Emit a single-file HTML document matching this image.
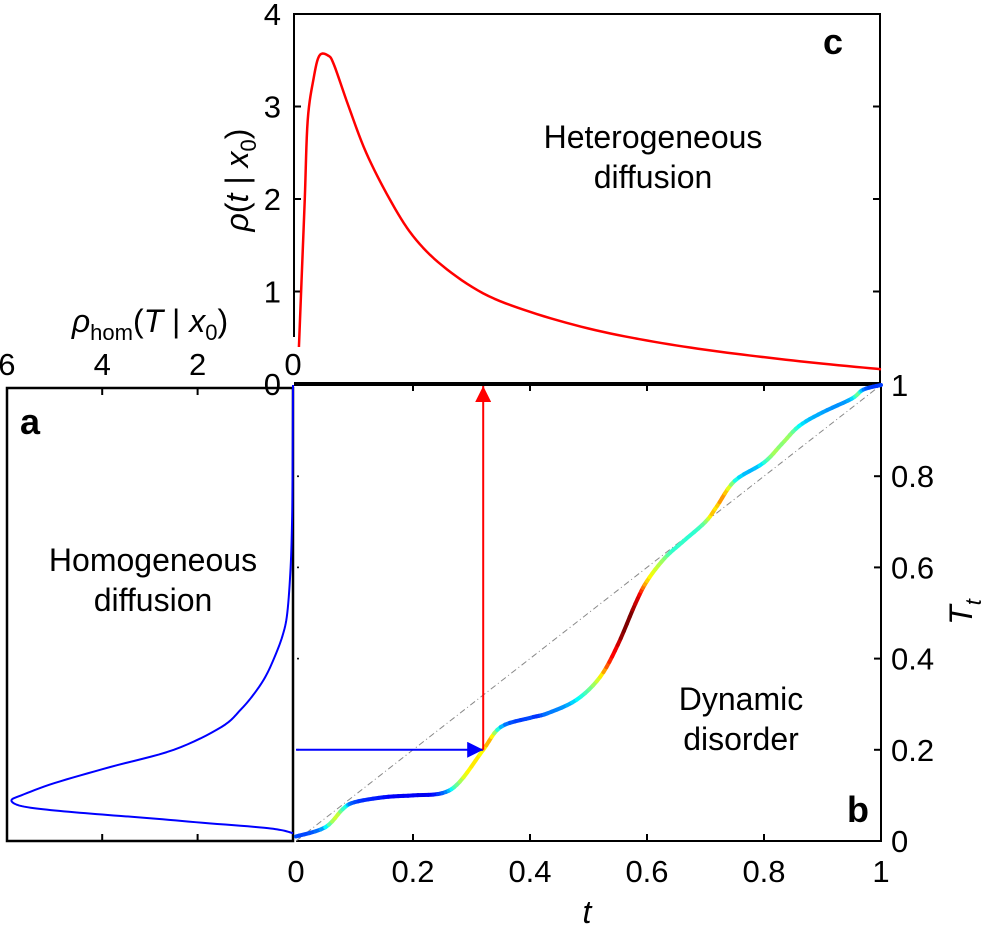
<!DOCTYPE html>
<html><head><meta charset="utf-8"><style>
body{margin:0;background:#fff}
svg text{font-family:"Liberation Sans",sans-serif;fill:#000}
</style></head><body>
<svg id="fig" width="995" height="931" viewBox="0 0 995 931" xmlns="http://www.w3.org/2000/svg">
<defs>
<marker id="ab" viewBox="0 0 10 10" refX="10" refY="5" markerWidth="24" markerHeight="16" markerUnits="userSpaceOnUse" orient="auto"><path d="M0,0L10,5L0,10z" fill="#0000ff"/></marker>
<marker id="ar" viewBox="0 0 10 10" refX="10" refY="5" markerWidth="24" markerHeight="16" markerUnits="userSpaceOnUse" orient="auto"><path d="M0,0L10,5L0,10z" fill="#ff0000"/></marker>
</defs>
<g id="g"></g>
</svg>
<script>
// Panel c: heterogeneous first-passage density rho(t|x0)
const cT=[0.005,0.01,0.015,0.02,0.03,0.04,0.055,0.065,0.09,0.12,0.16,0.2,0.25,0.32,0.4,0.5,0.6,0.7,0.8,0.9,1.0];
const cRho=[0.4,1.2,2.0,2.85,3.3,3.55,3.55,3.45,3.0,2.5,2.0,1.6,1.28,0.98,0.78,0.6,0.47,0.37,0.29,0.22,0.16];
const cYTicks=[0,1,2,3,4];
// Panel a: homogeneous density rho_hom(T|x0)
const aT=[1.0,0.8,0.7,0.6,0.5,0.45,0.4,0.36,0.325,0.29,0.25,0.2,0.162,0.127,0.1,0.09,0.08,0.073,0.066,0.058,0.05,0.04,0.03,0.024,0.017];
const aRho=[0.0,0.01,0.02,0.05,0.12,0.22,0.4,0.58,0.8,1.08,1.5,2.5,3.84,5.0,5.7,5.9,5.8,5.5,4.9,4.0,3.0,1.9,0.7,0.25,0.0];
const aTicks=[6,4,2,0];
// Panel b: transformed time T_t vs t
const bt=[0,0.05,0.08,0.1,0.15,0.2,0.25,0.28,0.32,0.35,0.4,0.43,0.48,0.52,0.55,0.58,0.6,0.63,0.66,0.7,0.72,0.75,0.8,0.83,0.86,0.9,0.95,0.97,1.0];
const bT=[0.01,0.03,0.07,0.085,0.096,0.1,0.105,0.13,0.2,0.25,0.27,0.28,0.31,0.36,0.43,0.52,0.57,0.62,0.655,0.70,0.735,0.79,0.83,0.87,0.91,0.94,0.97,0.99,1.0];
const tTicks=[0,0.2,0.4,0.6,0.8,1];
const TTicks=[0,0.2,0.4,0.6,0.8,1];
const t0=0.32,T0=0.2;

const X=t=>296+t*585;
const Yb=T=>841-T*456;
const Yc=v=>384-v*92.5;
const Xa=r=>293-r*47.7;
const NS="http://www.w3.org/2000/svg";
const g=document.getElementById('g');
function mk(tag,attrs,txt){const e=document.createElementNS(NS,tag);for(const k in attrs)e.setAttribute(k,attrs[k]);if(txt!==undefined)e.textContent=txt;g.appendChild(e);return e;}
function line(x1,y1,x2,y2,w,c){return mk('line',{x1,y1,x2,y2,stroke:c||'#000','stroke-width':w||2});}
function smooth(P,n){const out=[];for(let i=0;i<P.length-1;i++){const p0=P[Math.max(0,i-1)],p1=P[i],p2=P[i+1],p3=P[Math.min(P.length-1,i+2)];
 for(let k=0;k<n;k++){const s=k/n,s2=s*s,s3=s2*s;
  const f=(a,b,c,d)=>0.5*(2*b+(-a+c)*s+(2*a-5*b+4*c-d)*s2+(-a+3*b-3*c+d)*s3);
  out.push([f(p0[0],p1[0],p2[0],p3[0]),f(p0[1],p1[1],p2[1],p3[1])]);}}
 out.push(P[P.length-1]);return out;}

let e;
e=mk('path',{d:`M294,337V14H880V384`,fill:'none',stroke:'#000','stroke-width':2});

e=line(294,384,881,384,4);

e=mk('path',{d:`M296,841H881V384`,fill:'none',stroke:'#000','stroke-width':2});

e=mk('rect',{x:7,y:388,width:286,height:453,fill:'none',stroke:'#000','stroke-width':2.5});


cYTicks.forEach(v=>{
  if(v>0&&v<4){e=line(294,Yc(v),301,Yc(v),2);
  e=line(873,Yc(v),880,Yc(v),2);}
  e=mk('text',{x:281,y:Yc(v)+11,'font-size':31,'text-anchor':'end'},String(v));
  
});
tTicks.forEach(v=>{
  if(v>0&&v<1){e=line(X(v),841,X(v),834,2);
  e=line(X(v),384,X(v),391,2);}
  e=mk('text',{x:X(v),y:882,'font-size':31,'text-anchor':'middle'},String(v));
  
});
TTicks.forEach(v=>{
  if(v>0&&v<1){e=line(874,Yb(v),881,Yb(v),2);
  e=mk('circle',{cx:298,cy:Yb(v),r:1,fill:'#000'});}
  e=mk('text',{x:891,y:Yb(v)+11,'font-size':31},String(v));
  
});
aTicks.forEach(v=>{
  if(v>0&&v<6){e=line(Xa(v),841,Xa(v),834,2);
  e=line(Xa(v),388,Xa(v),395,2);}
  e=mk('text',{x:Xa(v),y:375,'font-size':31,'text-anchor':'middle'},String(v));
  
});

e=line(X(0),Yb(0),X(1),Yb(1),1,'#888');e.setAttribute('stroke-dasharray','6,3,1,3');


const cPts=smooth(cT.map((t,i)=>[X(t),Yc(cRho[i])]),8);
e=mk('polyline',{points:cPts.map(p=>p.join(',')).join(' '),fill:'none',stroke:'#ff0000','stroke-width':2.5,'stroke-linejoin':'round'});

const aPts=smooth(aT.map((T,i)=>[Xa(aRho[i]),Yb(T)]),8);
e=mk('polyline',{points:aPts.map(p=>p.join(',')).join(' '),fill:'none',stroke:'#0000ff','stroke-width':2,'stroke-linejoin':'round'});


function jet(v){v=Math.max(0,Math.min(1,v));const r=Math.max(0,Math.min(1,1.5-Math.abs(4*v-3))),gg=Math.max(0,Math.min(1,1.5-Math.abs(4*v-2))),b=Math.max(0,Math.min(1,1.5-Math.abs(4*v-1)));return `rgb(${r*255|0},${gg*255|0},${b*255|0})`;}
const bPts=smooth(bt.map((t,i)=>[X(t),Yb(bT[i])]),6);
for(let i=0;i<bPts.length-1;i++){
  const dx=bPts[i+1][0]-bPts[i][0],dy=bPts[i][1]-bPts[i+1][1];
  const s=dx>0?(dy/456)/(dx/585):1;
  e=mk('line',{x1:bPts[i][0],y1:bPts[i][1],x2:bPts[i+1][0],y2:bPts[i+1][1],stroke:jet(0.1+s/3.4),'stroke-width':4,'stroke-linecap':'round'});
  
}
e=mk('line',{x1:X(0),y1:Yb(T0),x2:X(t0),y2:Yb(T0),stroke:'#0000ff','stroke-width':2,'marker-end':'url(#ab)'});

e=mk('line',{x1:X(t0),y1:Yb(T0),x2:X(t0),y2:386,stroke:'#ff0000','stroke-width':2,'marker-end':'url(#ar)'});


function tx(name,x,y,size,s,extra){const el=mk('text',Object.assign({x,y,'font-size':size},extra||{}),s);return el;}
tx('panel-c-letter',823,54,36,'c',{'font-weight':'bold'});
tx('panel-a-letter',20,434,36,'a',{'font-weight':'bold'});
tx('panel-b-letter',847,822,36,'b',{'font-weight':'bold'});
tx('hetero-label-1',653,148,32,'Heterogeneous',{'text-anchor':'middle'});
tx('hetero-label-2',653,188,32,'diffusion',{'text-anchor':'middle'});
tx('homo-label-1',153,571,32,'Homogeneous',{'text-anchor':'middle'});
tx('homo-label-2',153,611,32,'diffusion',{'text-anchor':'middle'});
tx('dynamic-label-1',741,710,32,'Dynamic',{'text-anchor':'middle'});
tx('dynamic-label-2',741,750,32,'disorder',{'text-anchor':'middle'});
tx('x-axis-title',587,923,32,'t',{'font-style':'italic','text-anchor':'middle'});
e=mk('text',{x:0,y:0,'font-size':32,transform:'translate(972,612) rotate(-90)','text-anchor':'middle'});

e.innerHTML='<tspan font-style="italic">T</tspan><tspan font-style="italic" font-size="22" dy="9">t</tspan>';
e=mk('text',{x:0,y:0,'font-size':32,transform:'translate(248,180) rotate(-90)','text-anchor':'middle'});

e.innerHTML='<tspan font-style="italic">ρ</tspan>(<tspan font-style="italic">t</tspan> | <tspan font-style="italic">x</tspan><tspan font-size="22" dy="8">0</tspan><tspan dy="-8">)</tspan>';
e=mk('text',{x:150,y:332,'font-size':32,'text-anchor':'middle'});

e.innerHTML='<tspan font-style="italic">ρ</tspan><tspan font-size="22" dy="8">hom</tspan><tspan dy="-8">(</tspan><tspan font-style="italic">T</tspan> | <tspan font-style="italic">x</tspan><tspan font-size="22" dy="8">0</tspan><tspan dy="-8">)</tspan>';
</script>
</body></html>
